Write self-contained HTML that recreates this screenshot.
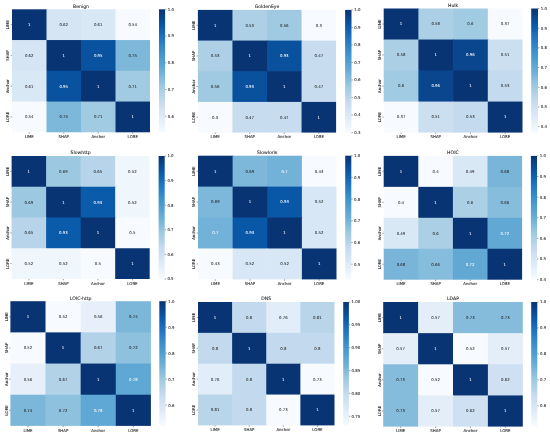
<!DOCTYPE html>
<html><head><meta charset="utf-8"><title>Explanation correlation heatmaps</title><style>html,body{margin:0;padding:0;background:#fff;}svg{display:block;}text{font-family:"DejaVu Sans","Liberation Sans",sans-serif;}</style></head><body>
<svg width="550" height="435" viewBox="0 0 550 435">
<defs><linearGradient id="g0" x1="0" y1="1" x2="0" y2="0"><stop offset="0.0000" stop-color="#f7fbff"/><stop offset="0.0312" stop-color="#f1f7fd"/><stop offset="0.0625" stop-color="#eaf3fb"/><stop offset="0.0938" stop-color="#e4eff9"/><stop offset="0.1250" stop-color="#deebf7"/><stop offset="0.1562" stop-color="#d8e7f5"/><stop offset="0.1875" stop-color="#d2e3f3"/><stop offset="0.2188" stop-color="#ccdff1"/><stop offset="0.2500" stop-color="#c6dbef"/><stop offset="0.2812" stop-color="#bcd7eb"/><stop offset="0.3125" stop-color="#b2d2e8"/><stop offset="0.3438" stop-color="#a8cee4"/><stop offset="0.3750" stop-color="#9dcae1"/><stop offset="0.4062" stop-color="#91c3de"/><stop offset="0.4375" stop-color="#84bcdb"/><stop offset="0.4688" stop-color="#77b5d9"/><stop offset="0.5000" stop-color="#6aaed6"/><stop offset="0.5312" stop-color="#61a8d4"/><stop offset="0.5625" stop-color="#57a3d2"/><stop offset="0.5938" stop-color="#4e9dd0"/><stop offset="0.6250" stop-color="#4497ce"/><stop offset="0.6562" stop-color="#3c90cb"/><stop offset="0.6875" stop-color="#3489c8"/><stop offset="0.7188" stop-color="#2b81c6"/><stop offset="0.7500" stop-color="#2379c3"/><stop offset="0.7812" stop-color="#1c71bc"/><stop offset="0.8125" stop-color="#1568b5"/><stop offset="0.8438" stop-color="#0f5faf"/><stop offset="0.8750" stop-color="#0957a7"/><stop offset="0.9062" stop-color="#094e9a"/><stop offset="0.9375" stop-color="#09458c"/><stop offset="0.9688" stop-color="#093c7f"/><stop offset="1.0000" stop-color="#093474"/></linearGradient><linearGradient id="g1" x1="0" y1="1" x2="0" y2="0"><stop offset="0.0000" stop-color="#f7fbff"/><stop offset="0.0312" stop-color="#f1f7fd"/><stop offset="0.0625" stop-color="#eaf3fb"/><stop offset="0.0938" stop-color="#e4eff9"/><stop offset="0.1250" stop-color="#deebf7"/><stop offset="0.1562" stop-color="#d8e7f5"/><stop offset="0.1875" stop-color="#d2e3f3"/><stop offset="0.2188" stop-color="#ccdff1"/><stop offset="0.2500" stop-color="#c6dbef"/><stop offset="0.2812" stop-color="#bcd7eb"/><stop offset="0.3125" stop-color="#b2d2e8"/><stop offset="0.3438" stop-color="#a8cee4"/><stop offset="0.3750" stop-color="#9dcae1"/><stop offset="0.4062" stop-color="#91c3de"/><stop offset="0.4375" stop-color="#84bcdb"/><stop offset="0.4688" stop-color="#77b5d9"/><stop offset="0.5000" stop-color="#6aaed6"/><stop offset="0.5312" stop-color="#61a8d4"/><stop offset="0.5625" stop-color="#57a3d2"/><stop offset="0.5938" stop-color="#4e9dd0"/><stop offset="0.6250" stop-color="#4497ce"/><stop offset="0.6562" stop-color="#3c90cb"/><stop offset="0.6875" stop-color="#3489c8"/><stop offset="0.7188" stop-color="#2b81c6"/><stop offset="0.7500" stop-color="#2379c3"/><stop offset="0.7812" stop-color="#1c71bc"/><stop offset="0.8125" stop-color="#1568b5"/><stop offset="0.8438" stop-color="#0f5faf"/><stop offset="0.8750" stop-color="#0957a7"/><stop offset="0.9062" stop-color="#094e9a"/><stop offset="0.9375" stop-color="#09458c"/><stop offset="0.9688" stop-color="#093c7f"/><stop offset="1.0000" stop-color="#093474"/></linearGradient><linearGradient id="g2" x1="0" y1="1" x2="0" y2="0"><stop offset="0.0000" stop-color="#f7fbff"/><stop offset="0.0312" stop-color="#f1f7fd"/><stop offset="0.0625" stop-color="#eaf3fb"/><stop offset="0.0938" stop-color="#e4eff9"/><stop offset="0.1250" stop-color="#deebf7"/><stop offset="0.1562" stop-color="#d8e7f5"/><stop offset="0.1875" stop-color="#d2e3f3"/><stop offset="0.2188" stop-color="#ccdff1"/><stop offset="0.2500" stop-color="#c6dbef"/><stop offset="0.2812" stop-color="#bcd7eb"/><stop offset="0.3125" stop-color="#b2d2e8"/><stop offset="0.3438" stop-color="#a8cee4"/><stop offset="0.3750" stop-color="#9dcae1"/><stop offset="0.4062" stop-color="#91c3de"/><stop offset="0.4375" stop-color="#84bcdb"/><stop offset="0.4688" stop-color="#77b5d9"/><stop offset="0.5000" stop-color="#6aaed6"/><stop offset="0.5312" stop-color="#61a8d4"/><stop offset="0.5625" stop-color="#57a3d2"/><stop offset="0.5938" stop-color="#4e9dd0"/><stop offset="0.6250" stop-color="#4497ce"/><stop offset="0.6562" stop-color="#3c90cb"/><stop offset="0.6875" stop-color="#3489c8"/><stop offset="0.7188" stop-color="#2b81c6"/><stop offset="0.7500" stop-color="#2379c3"/><stop offset="0.7812" stop-color="#1c71bc"/><stop offset="0.8125" stop-color="#1568b5"/><stop offset="0.8438" stop-color="#0f5faf"/><stop offset="0.8750" stop-color="#0957a7"/><stop offset="0.9062" stop-color="#094e9a"/><stop offset="0.9375" stop-color="#09458c"/><stop offset="0.9688" stop-color="#093c7f"/><stop offset="1.0000" stop-color="#093474"/></linearGradient><linearGradient id="g3" x1="0" y1="1" x2="0" y2="0"><stop offset="0.0000" stop-color="#f7fbff"/><stop offset="0.0312" stop-color="#f1f7fd"/><stop offset="0.0625" stop-color="#eaf3fb"/><stop offset="0.0938" stop-color="#e4eff9"/><stop offset="0.1250" stop-color="#deebf7"/><stop offset="0.1562" stop-color="#d8e7f5"/><stop offset="0.1875" stop-color="#d2e3f3"/><stop offset="0.2188" stop-color="#ccdff1"/><stop offset="0.2500" stop-color="#c6dbef"/><stop offset="0.2812" stop-color="#bcd7eb"/><stop offset="0.3125" stop-color="#b2d2e8"/><stop offset="0.3438" stop-color="#a8cee4"/><stop offset="0.3750" stop-color="#9dcae1"/><stop offset="0.4062" stop-color="#91c3de"/><stop offset="0.4375" stop-color="#84bcdb"/><stop offset="0.4688" stop-color="#77b5d9"/><stop offset="0.5000" stop-color="#6aaed6"/><stop offset="0.5312" stop-color="#61a8d4"/><stop offset="0.5625" stop-color="#57a3d2"/><stop offset="0.5938" stop-color="#4e9dd0"/><stop offset="0.6250" stop-color="#4497ce"/><stop offset="0.6562" stop-color="#3c90cb"/><stop offset="0.6875" stop-color="#3489c8"/><stop offset="0.7188" stop-color="#2b81c6"/><stop offset="0.7500" stop-color="#2379c3"/><stop offset="0.7812" stop-color="#1c71bc"/><stop offset="0.8125" stop-color="#1568b5"/><stop offset="0.8438" stop-color="#0f5faf"/><stop offset="0.8750" stop-color="#0957a7"/><stop offset="0.9062" stop-color="#094e9a"/><stop offset="0.9375" stop-color="#09458c"/><stop offset="0.9688" stop-color="#093c7f"/><stop offset="1.0000" stop-color="#093474"/></linearGradient><linearGradient id="g4" x1="0" y1="1" x2="0" y2="0"><stop offset="0.0000" stop-color="#f7fbff"/><stop offset="0.0312" stop-color="#f1f7fd"/><stop offset="0.0625" stop-color="#eaf3fb"/><stop offset="0.0938" stop-color="#e4eff9"/><stop offset="0.1250" stop-color="#deebf7"/><stop offset="0.1562" stop-color="#d8e7f5"/><stop offset="0.1875" stop-color="#d2e3f3"/><stop offset="0.2188" stop-color="#ccdff1"/><stop offset="0.2500" stop-color="#c6dbef"/><stop offset="0.2812" stop-color="#bcd7eb"/><stop offset="0.3125" stop-color="#b2d2e8"/><stop offset="0.3438" stop-color="#a8cee4"/><stop offset="0.3750" stop-color="#9dcae1"/><stop offset="0.4062" stop-color="#91c3de"/><stop offset="0.4375" stop-color="#84bcdb"/><stop offset="0.4688" stop-color="#77b5d9"/><stop offset="0.5000" stop-color="#6aaed6"/><stop offset="0.5312" stop-color="#61a8d4"/><stop offset="0.5625" stop-color="#57a3d2"/><stop offset="0.5938" stop-color="#4e9dd0"/><stop offset="0.6250" stop-color="#4497ce"/><stop offset="0.6562" stop-color="#3c90cb"/><stop offset="0.6875" stop-color="#3489c8"/><stop offset="0.7188" stop-color="#2b81c6"/><stop offset="0.7500" stop-color="#2379c3"/><stop offset="0.7812" stop-color="#1c71bc"/><stop offset="0.8125" stop-color="#1568b5"/><stop offset="0.8438" stop-color="#0f5faf"/><stop offset="0.8750" stop-color="#0957a7"/><stop offset="0.9062" stop-color="#094e9a"/><stop offset="0.9375" stop-color="#09458c"/><stop offset="0.9688" stop-color="#093c7f"/><stop offset="1.0000" stop-color="#093474"/></linearGradient><linearGradient id="g5" x1="0" y1="1" x2="0" y2="0"><stop offset="0.0000" stop-color="#f7fbff"/><stop offset="0.0312" stop-color="#f1f7fd"/><stop offset="0.0625" stop-color="#eaf3fb"/><stop offset="0.0938" stop-color="#e4eff9"/><stop offset="0.1250" stop-color="#deebf7"/><stop offset="0.1562" stop-color="#d8e7f5"/><stop offset="0.1875" stop-color="#d2e3f3"/><stop offset="0.2188" stop-color="#ccdff1"/><stop offset="0.2500" stop-color="#c6dbef"/><stop offset="0.2812" stop-color="#bcd7eb"/><stop offset="0.3125" stop-color="#b2d2e8"/><stop offset="0.3438" stop-color="#a8cee4"/><stop offset="0.3750" stop-color="#9dcae1"/><stop offset="0.4062" stop-color="#91c3de"/><stop offset="0.4375" stop-color="#84bcdb"/><stop offset="0.4688" stop-color="#77b5d9"/><stop offset="0.5000" stop-color="#6aaed6"/><stop offset="0.5312" stop-color="#61a8d4"/><stop offset="0.5625" stop-color="#57a3d2"/><stop offset="0.5938" stop-color="#4e9dd0"/><stop offset="0.6250" stop-color="#4497ce"/><stop offset="0.6562" stop-color="#3c90cb"/><stop offset="0.6875" stop-color="#3489c8"/><stop offset="0.7188" stop-color="#2b81c6"/><stop offset="0.7500" stop-color="#2379c3"/><stop offset="0.7812" stop-color="#1c71bc"/><stop offset="0.8125" stop-color="#1568b5"/><stop offset="0.8438" stop-color="#0f5faf"/><stop offset="0.8750" stop-color="#0957a7"/><stop offset="0.9062" stop-color="#094e9a"/><stop offset="0.9375" stop-color="#09458c"/><stop offset="0.9688" stop-color="#093c7f"/><stop offset="1.0000" stop-color="#093474"/></linearGradient><linearGradient id="g6" x1="0" y1="1" x2="0" y2="0"><stop offset="0.0000" stop-color="#f7fbff"/><stop offset="0.0312" stop-color="#f1f7fd"/><stop offset="0.0625" stop-color="#eaf3fb"/><stop offset="0.0938" stop-color="#e4eff9"/><stop offset="0.1250" stop-color="#deebf7"/><stop offset="0.1562" stop-color="#d8e7f5"/><stop offset="0.1875" stop-color="#d2e3f3"/><stop offset="0.2188" stop-color="#ccdff1"/><stop offset="0.2500" stop-color="#c6dbef"/><stop offset="0.2812" stop-color="#bcd7eb"/><stop offset="0.3125" stop-color="#b2d2e8"/><stop offset="0.3438" stop-color="#a8cee4"/><stop offset="0.3750" stop-color="#9dcae1"/><stop offset="0.4062" stop-color="#91c3de"/><stop offset="0.4375" stop-color="#84bcdb"/><stop offset="0.4688" stop-color="#77b5d9"/><stop offset="0.5000" stop-color="#6aaed6"/><stop offset="0.5312" stop-color="#61a8d4"/><stop offset="0.5625" stop-color="#57a3d2"/><stop offset="0.5938" stop-color="#4e9dd0"/><stop offset="0.6250" stop-color="#4497ce"/><stop offset="0.6562" stop-color="#3c90cb"/><stop offset="0.6875" stop-color="#3489c8"/><stop offset="0.7188" stop-color="#2b81c6"/><stop offset="0.7500" stop-color="#2379c3"/><stop offset="0.7812" stop-color="#1c71bc"/><stop offset="0.8125" stop-color="#1568b5"/><stop offset="0.8438" stop-color="#0f5faf"/><stop offset="0.8750" stop-color="#0957a7"/><stop offset="0.9062" stop-color="#094e9a"/><stop offset="0.9375" stop-color="#09458c"/><stop offset="0.9688" stop-color="#093c7f"/><stop offset="1.0000" stop-color="#093474"/></linearGradient><linearGradient id="g7" x1="0" y1="1" x2="0" y2="0"><stop offset="0.0000" stop-color="#f7fbff"/><stop offset="0.0312" stop-color="#f1f7fd"/><stop offset="0.0625" stop-color="#eaf3fb"/><stop offset="0.0938" stop-color="#e4eff9"/><stop offset="0.1250" stop-color="#deebf7"/><stop offset="0.1562" stop-color="#d8e7f5"/><stop offset="0.1875" stop-color="#d2e3f3"/><stop offset="0.2188" stop-color="#ccdff1"/><stop offset="0.2500" stop-color="#c6dbef"/><stop offset="0.2812" stop-color="#bcd7eb"/><stop offset="0.3125" stop-color="#b2d2e8"/><stop offset="0.3438" stop-color="#a8cee4"/><stop offset="0.3750" stop-color="#9dcae1"/><stop offset="0.4062" stop-color="#91c3de"/><stop offset="0.4375" stop-color="#84bcdb"/><stop offset="0.4688" stop-color="#77b5d9"/><stop offset="0.5000" stop-color="#6aaed6"/><stop offset="0.5312" stop-color="#61a8d4"/><stop offset="0.5625" stop-color="#57a3d2"/><stop offset="0.5938" stop-color="#4e9dd0"/><stop offset="0.6250" stop-color="#4497ce"/><stop offset="0.6562" stop-color="#3c90cb"/><stop offset="0.6875" stop-color="#3489c8"/><stop offset="0.7188" stop-color="#2b81c6"/><stop offset="0.7500" stop-color="#2379c3"/><stop offset="0.7812" stop-color="#1c71bc"/><stop offset="0.8125" stop-color="#1568b5"/><stop offset="0.8438" stop-color="#0f5faf"/><stop offset="0.8750" stop-color="#0957a7"/><stop offset="0.9062" stop-color="#094e9a"/><stop offset="0.9375" stop-color="#09458c"/><stop offset="0.9688" stop-color="#093c7f"/><stop offset="1.0000" stop-color="#093474"/></linearGradient><linearGradient id="g8" x1="0" y1="1" x2="0" y2="0"><stop offset="0.0000" stop-color="#f7fbff"/><stop offset="0.0312" stop-color="#f1f7fd"/><stop offset="0.0625" stop-color="#eaf3fb"/><stop offset="0.0938" stop-color="#e4eff9"/><stop offset="0.1250" stop-color="#deebf7"/><stop offset="0.1562" stop-color="#d8e7f5"/><stop offset="0.1875" stop-color="#d2e3f3"/><stop offset="0.2188" stop-color="#ccdff1"/><stop offset="0.2500" stop-color="#c6dbef"/><stop offset="0.2812" stop-color="#bcd7eb"/><stop offset="0.3125" stop-color="#b2d2e8"/><stop offset="0.3438" stop-color="#a8cee4"/><stop offset="0.3750" stop-color="#9dcae1"/><stop offset="0.4062" stop-color="#91c3de"/><stop offset="0.4375" stop-color="#84bcdb"/><stop offset="0.4688" stop-color="#77b5d9"/><stop offset="0.5000" stop-color="#6aaed6"/><stop offset="0.5312" stop-color="#61a8d4"/><stop offset="0.5625" stop-color="#57a3d2"/><stop offset="0.5938" stop-color="#4e9dd0"/><stop offset="0.6250" stop-color="#4497ce"/><stop offset="0.6562" stop-color="#3c90cb"/><stop offset="0.6875" stop-color="#3489c8"/><stop offset="0.7188" stop-color="#2b81c6"/><stop offset="0.7500" stop-color="#2379c3"/><stop offset="0.7812" stop-color="#1c71bc"/><stop offset="0.8125" stop-color="#1568b5"/><stop offset="0.8438" stop-color="#0f5faf"/><stop offset="0.8750" stop-color="#0957a7"/><stop offset="0.9062" stop-color="#094e9a"/><stop offset="0.9375" stop-color="#09458c"/><stop offset="0.9688" stop-color="#093c7f"/><stop offset="1.0000" stop-color="#093474"/></linearGradient></defs>
<rect x="0" y="0" width="550" height="435" fill="#fff"/>
<g><rect x="12.00" y="9.30" width="35.20" height="31.45" fill="#093474"/>
<rect x="46.50" y="9.30" width="35.20" height="31.45" fill="#d5e5f4"/>
<rect x="81.00" y="9.30" width="35.20" height="31.45" fill="#d9e8f5"/>
<rect x="115.50" y="9.30" width="34.50" height="31.45" fill="#f7fbff"/>
<rect x="12.00" y="40.05" width="35.20" height="31.45" fill="#d5e5f4"/>
<rect x="46.50" y="40.05" width="35.20" height="31.45" fill="#093474"/>
<rect x="81.00" y="40.05" width="35.20" height="31.45" fill="#0952a0"/>
<rect x="115.50" y="40.05" width="34.50" height="31.45" fill="#7db8da"/>
<rect x="12.00" y="70.80" width="35.20" height="31.45" fill="#d9e8f5"/>
<rect x="46.50" y="70.80" width="35.20" height="31.45" fill="#0952a0"/>
<rect x="81.00" y="70.80" width="35.20" height="31.45" fill="#093474"/>
<rect x="115.50" y="70.80" width="34.50" height="31.45" fill="#a0cbe2"/>
<rect x="12.00" y="101.55" width="35.20" height="30.75" fill="#f7fbff"/>
<rect x="46.50" y="101.55" width="35.20" height="30.75" fill="#7db8da"/>
<rect x="81.00" y="101.55" width="35.20" height="30.75" fill="#a0cbe2"/>
<rect x="115.50" y="101.55" width="34.50" height="30.75" fill="#093474"/>
<rect x="159.00" y="9.30" width="6.10" height="123.00" fill="url(#g0)"/>
<rect x="197.90" y="9.90" width="35.25" height="31.37" fill="#093474"/>
<rect x="232.45" y="9.90" width="35.25" height="31.37" fill="#add0e6"/>
<rect x="267.00" y="9.90" width="35.25" height="31.37" fill="#9fcae1"/>
<rect x="301.55" y="9.90" width="34.55" height="31.37" fill="#f7fbff"/>
<rect x="197.90" y="40.57" width="35.25" height="31.37" fill="#add0e6"/>
<rect x="232.45" y="40.57" width="35.25" height="31.37" fill="#093474"/>
<rect x="267.00" y="40.57" width="35.25" height="31.37" fill="#09509d"/>
<rect x="301.55" y="40.57" width="34.55" height="31.37" fill="#c7dcef"/>
<rect x="197.90" y="71.25" width="35.25" height="31.37" fill="#9fcae1"/>
<rect x="232.45" y="71.25" width="35.25" height="31.37" fill="#09509d"/>
<rect x="267.00" y="71.25" width="35.25" height="31.37" fill="#093474"/>
<rect x="301.55" y="71.25" width="34.55" height="31.37" fill="#c7dcef"/>
<rect x="197.90" y="101.92" width="35.25" height="30.67" fill="#f7fbff"/>
<rect x="232.45" y="101.92" width="35.25" height="30.67" fill="#c7dcef"/>
<rect x="267.00" y="101.92" width="35.25" height="30.67" fill="#c7dcef"/>
<rect x="301.55" y="101.92" width="34.55" height="30.67" fill="#093474"/>
<rect x="345.10" y="9.90" width="6.40" height="122.70" fill="url(#g1)"/>
<rect x="383.70" y="8.50" width="35.40" height="31.72" fill="#093474"/>
<rect x="418.40" y="8.50" width="35.40" height="31.72" fill="#abd0e6"/>
<rect x="453.10" y="8.50" width="35.40" height="31.72" fill="#a1cbe2"/>
<rect x="487.80" y="8.50" width="34.70" height="31.72" fill="#f7fbff"/>
<rect x="383.70" y="39.52" width="35.40" height="31.72" fill="#abd0e6"/>
<rect x="418.40" y="39.52" width="35.40" height="31.72" fill="#093474"/>
<rect x="453.10" y="39.52" width="35.40" height="31.72" fill="#09468e"/>
<rect x="487.80" y="39.52" width="34.70" height="31.72" fill="#ccdff1"/>
<rect x="383.70" y="70.55" width="35.40" height="31.72" fill="#a1cbe2"/>
<rect x="418.40" y="70.55" width="35.40" height="31.72" fill="#09468e"/>
<rect x="453.10" y="70.55" width="35.40" height="31.72" fill="#093474"/>
<rect x="487.80" y="70.55" width="34.70" height="31.72" fill="#c4daee"/>
<rect x="383.70" y="101.57" width="35.40" height="31.02" fill="#f7fbff"/>
<rect x="418.40" y="101.57" width="35.40" height="31.02" fill="#ccdff1"/>
<rect x="453.10" y="101.57" width="35.40" height="31.02" fill="#c4daee"/>
<rect x="487.80" y="101.57" width="34.70" height="31.02" fill="#093474"/>
<rect x="531.20" y="8.50" width="6.80" height="124.10" fill="url(#g2)"/>
<rect x="11.60" y="156.00" width="35.23" height="31.45" fill="#093474"/>
<rect x="46.12" y="156.00" width="35.23" height="31.45" fill="#9cc9e1"/>
<rect x="80.65" y="156.00" width="35.23" height="31.45" fill="#b7d4ea"/>
<rect x="115.17" y="156.00" width="34.52" height="31.45" fill="#eff6fc"/>
<rect x="11.60" y="186.75" width="35.23" height="31.45" fill="#9cc9e1"/>
<rect x="46.12" y="186.75" width="35.23" height="31.45" fill="#093474"/>
<rect x="80.65" y="186.75" width="35.23" height="31.45" fill="#0b5bab"/>
<rect x="115.17" y="186.75" width="34.52" height="31.45" fill="#eff6fc"/>
<rect x="11.60" y="217.50" width="35.23" height="31.45" fill="#b7d4ea"/>
<rect x="46.12" y="217.50" width="35.23" height="31.45" fill="#0b5bab"/>
<rect x="80.65" y="217.50" width="35.23" height="31.45" fill="#093474"/>
<rect x="115.17" y="217.50" width="34.52" height="31.45" fill="#f7fbff"/>
<rect x="11.60" y="248.25" width="35.23" height="30.75" fill="#eff6fc"/>
<rect x="46.12" y="248.25" width="35.23" height="30.75" fill="#eff6fc"/>
<rect x="80.65" y="248.25" width="35.23" height="30.75" fill="#f7fbff"/>
<rect x="115.17" y="248.25" width="34.52" height="30.75" fill="#093474"/>
<rect x="158.60" y="156.00" width="6.10" height="123.00" fill="url(#g3)"/>
<rect x="198.00" y="155.70" width="35.33" height="31.62" fill="#093474"/>
<rect x="232.62" y="155.70" width="35.33" height="31.62" fill="#7db8da"/>
<rect x="267.25" y="155.70" width="35.33" height="31.62" fill="#72b2d8"/>
<rect x="301.88" y="155.70" width="34.62" height="31.62" fill="#f7fbff"/>
<rect x="198.00" y="186.62" width="35.33" height="31.62" fill="#7db8da"/>
<rect x="232.62" y="186.62" width="35.33" height="31.62" fill="#093474"/>
<rect x="267.25" y="186.62" width="35.33" height="31.62" fill="#0957a7"/>
<rect x="301.88" y="186.62" width="34.62" height="31.62" fill="#d8e7f5"/>
<rect x="198.00" y="217.55" width="35.33" height="31.62" fill="#72b2d8"/>
<rect x="232.62" y="217.55" width="35.33" height="31.62" fill="#0957a7"/>
<rect x="267.25" y="217.55" width="35.33" height="31.62" fill="#093474"/>
<rect x="301.88" y="217.55" width="34.62" height="31.62" fill="#d8e7f5"/>
<rect x="198.00" y="248.47" width="35.33" height="30.92" fill="#f7fbff"/>
<rect x="232.62" y="248.47" width="35.33" height="30.92" fill="#d8e7f5"/>
<rect x="267.25" y="248.47" width="35.33" height="30.92" fill="#d8e7f5"/>
<rect x="301.88" y="248.47" width="34.62" height="30.92" fill="#093474"/>
<rect x="345.20" y="155.70" width="6.10" height="123.70" fill="url(#g4)"/>
<rect x="383.70" y="155.90" width="35.30" height="31.65" fill="#093474"/>
<rect x="418.30" y="155.90" width="35.30" height="31.65" fill="#f7fbff"/>
<rect x="452.90" y="155.90" width="35.30" height="31.65" fill="#d9e8f5"/>
<rect x="487.50" y="155.90" width="34.60" height="31.65" fill="#79b5d9"/>
<rect x="383.70" y="186.85" width="35.30" height="31.65" fill="#f7fbff"/>
<rect x="418.30" y="186.85" width="35.30" height="31.65" fill="#093474"/>
<rect x="452.90" y="186.85" width="35.30" height="31.65" fill="#abd0e6"/>
<rect x="487.50" y="186.85" width="34.60" height="31.65" fill="#87bddc"/>
<rect x="383.70" y="217.80" width="35.30" height="31.65" fill="#d9e8f5"/>
<rect x="418.30" y="217.80" width="35.30" height="31.65" fill="#abd0e6"/>
<rect x="452.90" y="217.80" width="35.30" height="31.65" fill="#093474"/>
<rect x="487.50" y="217.80" width="34.60" height="31.65" fill="#61a8d4"/>
<rect x="383.70" y="248.75" width="35.30" height="30.95" fill="#79b5d9"/>
<rect x="418.30" y="248.75" width="35.30" height="30.95" fill="#87bddc"/>
<rect x="452.90" y="248.75" width="35.30" height="30.95" fill="#61a8d4"/>
<rect x="487.50" y="248.75" width="34.60" height="30.95" fill="#093474"/>
<rect x="530.90" y="155.90" width="6.10" height="123.80" fill="url(#g5)"/>
<rect x="10.40" y="301.20" width="35.83" height="31.87" fill="#093474"/>
<rect x="45.52" y="301.20" width="35.83" height="31.87" fill="#f7fbff"/>
<rect x="80.65" y="301.20" width="35.83" height="31.87" fill="#e7f0fa"/>
<rect x="115.78" y="301.20" width="35.12" height="31.87" fill="#7cb7da"/>
<rect x="10.40" y="332.38" width="35.83" height="31.87" fill="#f7fbff"/>
<rect x="45.52" y="332.38" width="35.83" height="31.87" fill="#093474"/>
<rect x="80.65" y="332.38" width="35.83" height="31.87" fill="#b2d2e8"/>
<rect x="115.78" y="332.38" width="35.12" height="31.87" fill="#8dc1dd"/>
<rect x="10.40" y="363.55" width="35.83" height="31.87" fill="#e7f0fa"/>
<rect x="45.52" y="363.55" width="35.83" height="31.87" fill="#b2d2e8"/>
<rect x="80.65" y="363.55" width="35.83" height="31.87" fill="#093474"/>
<rect x="115.78" y="363.55" width="35.12" height="31.87" fill="#5fa7d4"/>
<rect x="10.40" y="394.72" width="35.83" height="31.17" fill="#7cb7da"/>
<rect x="45.52" y="394.72" width="35.83" height="31.17" fill="#8dc1dd"/>
<rect x="80.65" y="394.72" width="35.83" height="31.17" fill="#5fa7d4"/>
<rect x="115.78" y="394.72" width="35.12" height="31.17" fill="#093474"/>
<rect x="159.30" y="301.20" width="6.30" height="124.70" fill="url(#g6)"/>
<rect x="198.00" y="302.00" width="34.83" height="31.55" fill="#093474"/>
<rect x="232.12" y="302.00" width="34.83" height="31.55" fill="#c3daee"/>
<rect x="266.25" y="302.00" width="34.83" height="31.55" fill="#e1edf8"/>
<rect x="300.38" y="302.00" width="34.12" height="31.55" fill="#b8d5ea"/>
<rect x="198.00" y="332.85" width="34.83" height="31.55" fill="#c3daee"/>
<rect x="232.12" y="332.85" width="34.83" height="31.55" fill="#093474"/>
<rect x="266.25" y="332.85" width="34.83" height="31.55" fill="#c3daee"/>
<rect x="300.38" y="332.85" width="34.12" height="31.55" fill="#c3daee"/>
<rect x="198.00" y="363.70" width="34.83" height="31.55" fill="#e1edf8"/>
<rect x="232.12" y="363.70" width="34.83" height="31.55" fill="#c3daee"/>
<rect x="266.25" y="363.70" width="34.83" height="31.55" fill="#093474"/>
<rect x="300.38" y="363.70" width="34.12" height="31.55" fill="#f7fbff"/>
<rect x="198.00" y="394.55" width="34.83" height="30.85" fill="#b8d5ea"/>
<rect x="232.12" y="394.55" width="34.83" height="30.85" fill="#c3daee"/>
<rect x="266.25" y="394.55" width="34.83" height="30.85" fill="#f7fbff"/>
<rect x="300.38" y="394.55" width="34.12" height="30.85" fill="#093474"/>
<rect x="343.20" y="302.00" width="5.70" height="123.40" fill="url(#g7)"/>
<rect x="383.20" y="302.00" width="35.60" height="31.85" fill="#093474"/>
<rect x="418.10" y="302.00" width="35.60" height="31.85" fill="#e3eef8"/>
<rect x="453.00" y="302.00" width="35.60" height="31.85" fill="#85bcdc"/>
<rect x="487.90" y="302.00" width="34.90" height="31.85" fill="#85bcdc"/>
<rect x="383.20" y="333.15" width="35.60" height="31.85" fill="#e3eef8"/>
<rect x="418.10" y="333.15" width="35.60" height="31.85" fill="#093474"/>
<rect x="453.00" y="333.15" width="35.60" height="31.85" fill="#f7fbff"/>
<rect x="487.90" y="333.15" width="34.90" height="31.85" fill="#e3eef8"/>
<rect x="383.20" y="364.30" width="35.60" height="31.85" fill="#85bcdc"/>
<rect x="418.10" y="364.30" width="35.60" height="31.85" fill="#f7fbff"/>
<rect x="453.00" y="364.30" width="35.60" height="31.85" fill="#093474"/>
<rect x="487.90" y="364.30" width="34.90" height="31.85" fill="#cee0f2"/>
<rect x="383.20" y="395.45" width="35.60" height="31.15" fill="#85bcdc"/>
<rect x="418.10" y="395.45" width="35.60" height="31.15" fill="#e3eef8"/>
<rect x="453.00" y="395.45" width="35.60" height="31.15" fill="#cee0f2"/>
<rect x="487.90" y="395.45" width="34.90" height="31.15" fill="#093474"/>
<rect x="531.20" y="302.00" width="6.10" height="124.60" fill="url(#g8)"/></g>
<g stroke="#262626" stroke-width="0.45"><line x1="29.25" y1="132.30" x2="29.25" y2="133.65"/>
<line x1="63.75" y1="132.30" x2="63.75" y2="133.65"/>
<line x1="98.25" y1="132.30" x2="98.25" y2="133.65"/>
<line x1="132.75" y1="132.30" x2="132.75" y2="133.65"/>
<line x1="10.65" y1="24.68" x2="12.00" y2="24.68"/>
<line x1="10.65" y1="55.43" x2="12.00" y2="55.43"/>
<line x1="10.65" y1="86.18" x2="12.00" y2="86.18"/>
<line x1="10.65" y1="116.93" x2="12.00" y2="116.93"/>
<line x1="165.10" y1="9.30" x2="166.45" y2="9.30"/>
<line x1="165.10" y1="36.04" x2="166.45" y2="36.04"/>
<line x1="165.10" y1="62.78" x2="166.45" y2="62.78"/>
<line x1="165.10" y1="89.52" x2="166.45" y2="89.52"/>
<line x1="165.10" y1="116.26" x2="166.45" y2="116.26"/>
<line x1="215.18" y1="132.60" x2="215.18" y2="133.95"/>
<line x1="249.73" y1="132.60" x2="249.73" y2="133.95"/>
<line x1="284.28" y1="132.60" x2="284.28" y2="133.95"/>
<line x1="318.83" y1="132.60" x2="318.83" y2="133.95"/>
<line x1="196.55" y1="25.24" x2="197.90" y2="25.24"/>
<line x1="196.55" y1="55.91" x2="197.90" y2="55.91"/>
<line x1="196.55" y1="86.59" x2="197.90" y2="86.59"/>
<line x1="196.55" y1="117.26" x2="197.90" y2="117.26"/>
<line x1="351.50" y1="9.90" x2="352.85" y2="9.90"/>
<line x1="351.50" y1="27.43" x2="352.85" y2="27.43"/>
<line x1="351.50" y1="44.96" x2="352.85" y2="44.96"/>
<line x1="351.50" y1="62.49" x2="352.85" y2="62.49"/>
<line x1="351.50" y1="80.01" x2="352.85" y2="80.01"/>
<line x1="351.50" y1="97.54" x2="352.85" y2="97.54"/>
<line x1="351.50" y1="115.07" x2="352.85" y2="115.07"/>
<line x1="351.50" y1="132.60" x2="352.85" y2="132.60"/>
<line x1="401.05" y1="132.60" x2="401.05" y2="133.95"/>
<line x1="435.75" y1="132.60" x2="435.75" y2="133.95"/>
<line x1="470.45" y1="132.60" x2="470.45" y2="133.95"/>
<line x1="505.15" y1="132.60" x2="505.15" y2="133.95"/>
<line x1="382.35" y1="24.01" x2="383.70" y2="24.01"/>
<line x1="382.35" y1="55.04" x2="383.70" y2="55.04"/>
<line x1="382.35" y1="86.06" x2="383.70" y2="86.06"/>
<line x1="382.35" y1="117.09" x2="383.70" y2="117.09"/>
<line x1="538.00" y1="8.50" x2="539.35" y2="8.50"/>
<line x1="538.00" y1="28.20" x2="539.35" y2="28.20"/>
<line x1="538.00" y1="47.90" x2="539.35" y2="47.90"/>
<line x1="538.00" y1="67.60" x2="539.35" y2="67.60"/>
<line x1="538.00" y1="87.29" x2="539.35" y2="87.29"/>
<line x1="538.00" y1="106.99" x2="539.35" y2="106.99"/>
<line x1="538.00" y1="126.69" x2="539.35" y2="126.69"/>
<line x1="28.86" y1="279.00" x2="28.86" y2="280.35"/>
<line x1="63.39" y1="279.00" x2="63.39" y2="280.35"/>
<line x1="97.91" y1="279.00" x2="97.91" y2="280.35"/>
<line x1="132.44" y1="279.00" x2="132.44" y2="280.35"/>
<line x1="10.25" y1="171.38" x2="11.60" y2="171.38"/>
<line x1="10.25" y1="202.12" x2="11.60" y2="202.12"/>
<line x1="10.25" y1="232.88" x2="11.60" y2="232.88"/>
<line x1="10.25" y1="263.62" x2="11.60" y2="263.62"/>
<line x1="164.70" y1="156.00" x2="166.05" y2="156.00"/>
<line x1="164.70" y1="180.60" x2="166.05" y2="180.60"/>
<line x1="164.70" y1="205.20" x2="166.05" y2="205.20"/>
<line x1="164.70" y1="229.80" x2="166.05" y2="229.80"/>
<line x1="164.70" y1="254.40" x2="166.05" y2="254.40"/>
<line x1="164.70" y1="279.00" x2="166.05" y2="279.00"/>
<line x1="215.31" y1="279.40" x2="215.31" y2="280.75"/>
<line x1="249.94" y1="279.40" x2="249.94" y2="280.75"/>
<line x1="284.56" y1="279.40" x2="284.56" y2="280.75"/>
<line x1="319.19" y1="279.40" x2="319.19" y2="280.75"/>
<line x1="196.65" y1="171.16" x2="198.00" y2="171.16"/>
<line x1="196.65" y1="202.09" x2="198.00" y2="202.09"/>
<line x1="196.65" y1="233.01" x2="198.00" y2="233.01"/>
<line x1="196.65" y1="263.94" x2="198.00" y2="263.94"/>
<line x1="351.30" y1="155.70" x2="352.65" y2="155.70"/>
<line x1="351.30" y1="177.40" x2="352.65" y2="177.40"/>
<line x1="351.30" y1="199.10" x2="352.65" y2="199.10"/>
<line x1="351.30" y1="220.81" x2="352.65" y2="220.81"/>
<line x1="351.30" y1="242.51" x2="352.65" y2="242.51"/>
<line x1="351.30" y1="264.21" x2="352.65" y2="264.21"/>
<line x1="401.00" y1="279.70" x2="401.00" y2="281.05"/>
<line x1="435.60" y1="279.70" x2="435.60" y2="281.05"/>
<line x1="470.20" y1="279.70" x2="470.20" y2="281.05"/>
<line x1="504.80" y1="279.70" x2="504.80" y2="281.05"/>
<line x1="382.35" y1="171.38" x2="383.70" y2="171.38"/>
<line x1="382.35" y1="202.32" x2="383.70" y2="202.32"/>
<line x1="382.35" y1="233.27" x2="383.70" y2="233.27"/>
<line x1="382.35" y1="264.23" x2="383.70" y2="264.23"/>
<line x1="537.00" y1="155.90" x2="538.35" y2="155.90"/>
<line x1="537.00" y1="176.53" x2="538.35" y2="176.53"/>
<line x1="537.00" y1="197.17" x2="538.35" y2="197.17"/>
<line x1="537.00" y1="217.80" x2="538.35" y2="217.80"/>
<line x1="537.00" y1="238.43" x2="538.35" y2="238.43"/>
<line x1="537.00" y1="259.07" x2="538.35" y2="259.07"/>
<line x1="537.00" y1="279.70" x2="538.35" y2="279.70"/>
<line x1="27.96" y1="425.90" x2="27.96" y2="427.25"/>
<line x1="63.09" y1="425.90" x2="63.09" y2="427.25"/>
<line x1="98.21" y1="425.90" x2="98.21" y2="427.25"/>
<line x1="133.34" y1="425.90" x2="133.34" y2="427.25"/>
<line x1="9.05" y1="316.79" x2="10.40" y2="316.79"/>
<line x1="9.05" y1="347.96" x2="10.40" y2="347.96"/>
<line x1="9.05" y1="379.14" x2="10.40" y2="379.14"/>
<line x1="9.05" y1="410.31" x2="10.40" y2="410.31"/>
<line x1="165.60" y1="301.20" x2="166.95" y2="301.20"/>
<line x1="165.60" y1="327.18" x2="166.95" y2="327.18"/>
<line x1="165.60" y1="353.16" x2="166.95" y2="353.16"/>
<line x1="165.60" y1="379.14" x2="166.95" y2="379.14"/>
<line x1="165.60" y1="405.12" x2="166.95" y2="405.12"/>
<line x1="215.06" y1="425.40" x2="215.06" y2="426.75"/>
<line x1="249.19" y1="425.40" x2="249.19" y2="426.75"/>
<line x1="283.31" y1="425.40" x2="283.31" y2="426.75"/>
<line x1="317.44" y1="425.40" x2="317.44" y2="426.75"/>
<line x1="196.65" y1="317.43" x2="198.00" y2="317.43"/>
<line x1="196.65" y1="348.27" x2="198.00" y2="348.27"/>
<line x1="196.65" y1="379.12" x2="198.00" y2="379.12"/>
<line x1="196.65" y1="409.97" x2="198.00" y2="409.97"/>
<line x1="348.90" y1="302.00" x2="350.25" y2="302.00"/>
<line x1="348.90" y1="324.85" x2="350.25" y2="324.85"/>
<line x1="348.90" y1="347.70" x2="350.25" y2="347.70"/>
<line x1="348.90" y1="370.56" x2="350.25" y2="370.56"/>
<line x1="348.90" y1="393.41" x2="350.25" y2="393.41"/>
<line x1="348.90" y1="416.26" x2="350.25" y2="416.26"/>
<line x1="400.65" y1="426.60" x2="400.65" y2="427.95"/>
<line x1="435.55" y1="426.60" x2="435.55" y2="427.95"/>
<line x1="470.45" y1="426.60" x2="470.45" y2="427.95"/>
<line x1="505.35" y1="426.60" x2="505.35" y2="427.95"/>
<line x1="381.85" y1="317.57" x2="383.20" y2="317.57"/>
<line x1="381.85" y1="348.73" x2="383.20" y2="348.73"/>
<line x1="381.85" y1="379.88" x2="383.20" y2="379.88"/>
<line x1="381.85" y1="411.03" x2="383.20" y2="411.03"/>
<line x1="537.30" y1="302.00" x2="538.65" y2="302.00"/>
<line x1="537.30" y1="327.96" x2="538.65" y2="327.96"/>
<line x1="537.30" y1="353.92" x2="538.65" y2="353.92"/>
<line x1="537.30" y1="379.88" x2="538.65" y2="379.88"/>
<line x1="537.30" y1="405.83" x2="538.65" y2="405.83"/></g>
<g><text x="292.50" y="260.79" font-size="39.00" fill="#ffffff" stroke="#ffffff" stroke-width="0.40" text-anchor="middle" transform="scale(0.1000)">1</text>
<text x="637.50" y="260.79" font-size="39.00" fill="#262626" stroke="#262626" stroke-width="0.40" text-anchor="middle" transform="scale(0.1000)">0.62</text>
<text x="982.50" y="260.79" font-size="39.00" fill="#262626" stroke="#262626" stroke-width="0.40" text-anchor="middle" transform="scale(0.1000)">0.61</text>
<text x="1327.50" y="260.79" font-size="39.00" fill="#262626" stroke="#262626" stroke-width="0.40" text-anchor="middle" transform="scale(0.1000)">0.54</text>
<text x="292.50" y="568.29" font-size="39.00" fill="#262626" stroke="#262626" stroke-width="0.40" text-anchor="middle" transform="scale(0.1000)">0.62</text>
<text x="637.50" y="568.29" font-size="39.00" fill="#ffffff" stroke="#ffffff" stroke-width="0.40" text-anchor="middle" transform="scale(0.1000)">1</text>
<text x="982.50" y="568.29" font-size="39.00" fill="#ffffff" stroke="#ffffff" stroke-width="0.40" text-anchor="middle" transform="scale(0.1000)">0.95</text>
<text x="1327.50" y="568.29" font-size="39.00" fill="#262626" stroke="#262626" stroke-width="0.40" text-anchor="middle" transform="scale(0.1000)">0.75</text>
<text x="292.50" y="875.79" font-size="39.00" fill="#262626" stroke="#262626" stroke-width="0.40" text-anchor="middle" transform="scale(0.1000)">0.61</text>
<text x="637.50" y="875.79" font-size="39.00" fill="#ffffff" stroke="#ffffff" stroke-width="0.40" text-anchor="middle" transform="scale(0.1000)">0.95</text>
<text x="982.50" y="875.79" font-size="39.00" fill="#ffffff" stroke="#ffffff" stroke-width="0.40" text-anchor="middle" transform="scale(0.1000)">1</text>
<text x="1327.50" y="875.79" font-size="39.00" fill="#262626" stroke="#262626" stroke-width="0.40" text-anchor="middle" transform="scale(0.1000)">0.71</text>
<text x="292.50" y="1183.29" font-size="39.00" fill="#262626" stroke="#262626" stroke-width="0.40" text-anchor="middle" transform="scale(0.1000)">0.54</text>
<text x="637.50" y="1183.29" font-size="39.00" fill="#262626" stroke="#262626" stroke-width="0.40" text-anchor="middle" transform="scale(0.1000)">0.75</text>
<text x="982.50" y="1183.29" font-size="39.00" fill="#262626" stroke="#262626" stroke-width="0.40" text-anchor="middle" transform="scale(0.1000)">0.71</text>
<text x="1327.50" y="1183.29" font-size="39.00" fill="#ffffff" stroke="#ffffff" stroke-width="0.40" text-anchor="middle" transform="scale(0.1000)">1</text>
<text x="810.00" y="76.50" font-size="46.00" fill="#262626" stroke="#262626" stroke-width="0.80" text-anchor="middle" transform="scale(0.1000)">Benign</text>
<text x="292.50" y="1379.64" font-size="39.00" fill="#262626" stroke="#262626" stroke-width="0.80" text-anchor="middle" transform="scale(0.1000)">LIME</text>
<text x="637.50" y="1379.64" font-size="39.00" fill="#262626" stroke="#262626" stroke-width="0.80" text-anchor="middle" transform="scale(0.1000)">SHAP</text>
<text x="982.50" y="1379.64" font-size="39.00" fill="#262626" stroke="#262626" stroke-width="0.80" text-anchor="middle" transform="scale(0.1000)">Anchor</text>
<text x="1327.50" y="1379.64" font-size="39.00" fill="#262626" stroke="#262626" stroke-width="0.80" text-anchor="middle" transform="scale(0.1000)">LORE</text>
<text x="0" y="0" font-size="39.00" fill="#262626" stroke="#262626" stroke-width="0.80" text-anchor="middle" transform="translate(9.30,24.68) rotate(-90) scale(0.1000)">LIME</text>
<text x="0" y="0" font-size="39.00" fill="#262626" stroke="#262626" stroke-width="0.80" text-anchor="middle" transform="translate(9.30,55.43) rotate(-90) scale(0.1000)">SHAP</text>
<text x="0" y="0" font-size="39.00" fill="#262626" stroke="#262626" stroke-width="0.80" text-anchor="middle" transform="translate(9.30,86.18) rotate(-90) scale(0.1000)">Anchor</text>
<text x="0" y="0" font-size="39.00" fill="#262626" stroke="#262626" stroke-width="0.80" text-anchor="middle" transform="translate(9.30,116.93) rotate(-90) scale(0.1000)">LORE</text>
<text x="1678.00" y="107.04" font-size="39.00" fill="#262626" stroke="#262626" stroke-width="0.80" text-anchor="start" transform="scale(0.1000)">1.0</text>
<text x="1678.00" y="374.43" font-size="39.00" fill="#262626" stroke="#262626" stroke-width="0.80" text-anchor="start" transform="scale(0.1000)">0.9</text>
<text x="1678.00" y="641.82" font-size="39.00" fill="#262626" stroke="#262626" stroke-width="0.80" text-anchor="start" transform="scale(0.1000)">0.8</text>
<text x="1678.00" y="909.21" font-size="39.00" fill="#262626" stroke="#262626" stroke-width="0.80" text-anchor="start" transform="scale(0.1000)">0.7</text>
<text x="1678.00" y="1176.61" font-size="39.00" fill="#262626" stroke="#262626" stroke-width="0.80" text-anchor="start" transform="scale(0.1000)">0.6</text>
<text x="2151.75" y="266.41" font-size="39.00" fill="#ffffff" stroke="#ffffff" stroke-width="0.40" text-anchor="middle" transform="scale(0.1000)">1</text>
<text x="2497.25" y="266.41" font-size="39.00" fill="#262626" stroke="#262626" stroke-width="0.40" text-anchor="middle" transform="scale(0.1000)">0.53</text>
<text x="2842.75" y="266.41" font-size="39.00" fill="#262626" stroke="#262626" stroke-width="0.40" text-anchor="middle" transform="scale(0.1000)">0.56</text>
<text x="3188.25" y="266.41" font-size="39.00" fill="#262626" stroke="#262626" stroke-width="0.40" text-anchor="middle" transform="scale(0.1000)">0.3</text>
<text x="2151.75" y="573.16" font-size="39.00" fill="#262626" stroke="#262626" stroke-width="0.40" text-anchor="middle" transform="scale(0.1000)">0.53</text>
<text x="2497.25" y="573.16" font-size="39.00" fill="#ffffff" stroke="#ffffff" stroke-width="0.40" text-anchor="middle" transform="scale(0.1000)">1</text>
<text x="2842.75" y="573.16" font-size="39.00" fill="#ffffff" stroke="#ffffff" stroke-width="0.40" text-anchor="middle" transform="scale(0.1000)">0.93</text>
<text x="3188.25" y="573.16" font-size="39.00" fill="#262626" stroke="#262626" stroke-width="0.40" text-anchor="middle" transform="scale(0.1000)">0.47</text>
<text x="2151.75" y="879.91" font-size="39.00" fill="#262626" stroke="#262626" stroke-width="0.40" text-anchor="middle" transform="scale(0.1000)">0.56</text>
<text x="2497.25" y="879.91" font-size="39.00" fill="#ffffff" stroke="#ffffff" stroke-width="0.40" text-anchor="middle" transform="scale(0.1000)">0.93</text>
<text x="2842.75" y="879.91" font-size="39.00" fill="#ffffff" stroke="#ffffff" stroke-width="0.40" text-anchor="middle" transform="scale(0.1000)">1</text>
<text x="3188.25" y="879.91" font-size="39.00" fill="#262626" stroke="#262626" stroke-width="0.40" text-anchor="middle" transform="scale(0.1000)">0.47</text>
<text x="2151.75" y="1186.66" font-size="39.00" fill="#262626" stroke="#262626" stroke-width="0.40" text-anchor="middle" transform="scale(0.1000)">0.3</text>
<text x="2497.25" y="1186.66" font-size="39.00" fill="#262626" stroke="#262626" stroke-width="0.40" text-anchor="middle" transform="scale(0.1000)">0.47</text>
<text x="2842.75" y="1186.66" font-size="39.00" fill="#262626" stroke="#262626" stroke-width="0.40" text-anchor="middle" transform="scale(0.1000)">0.47</text>
<text x="3188.25" y="1186.66" font-size="39.00" fill="#ffffff" stroke="#ffffff" stroke-width="0.40" text-anchor="middle" transform="scale(0.1000)">1</text>
<text x="2670.00" y="82.50" font-size="46.00" fill="#262626" stroke="#262626" stroke-width="0.80" text-anchor="middle" transform="scale(0.1000)">GoldenEye</text>
<text x="2151.75" y="1382.64" font-size="39.00" fill="#262626" stroke="#262626" stroke-width="0.80" text-anchor="middle" transform="scale(0.1000)">LIME</text>
<text x="2497.25" y="1382.64" font-size="39.00" fill="#262626" stroke="#262626" stroke-width="0.80" text-anchor="middle" transform="scale(0.1000)">SHAP</text>
<text x="2842.75" y="1382.64" font-size="39.00" fill="#262626" stroke="#262626" stroke-width="0.80" text-anchor="middle" transform="scale(0.1000)">Anchor</text>
<text x="3188.25" y="1382.64" font-size="39.00" fill="#262626" stroke="#262626" stroke-width="0.80" text-anchor="middle" transform="scale(0.1000)">LORE</text>
<text x="0" y="0" font-size="39.00" fill="#262626" stroke="#262626" stroke-width="0.80" text-anchor="middle" transform="translate(195.20,25.24) rotate(-90) scale(0.1000)">LIME</text>
<text x="0" y="0" font-size="39.00" fill="#262626" stroke="#262626" stroke-width="0.80" text-anchor="middle" transform="translate(195.20,55.91) rotate(-90) scale(0.1000)">SHAP</text>
<text x="0" y="0" font-size="39.00" fill="#262626" stroke="#262626" stroke-width="0.80" text-anchor="middle" transform="translate(195.20,86.59) rotate(-90) scale(0.1000)">Anchor</text>
<text x="0" y="0" font-size="39.00" fill="#262626" stroke="#262626" stroke-width="0.80" text-anchor="middle" transform="translate(195.20,117.26) rotate(-90) scale(0.1000)">LORE</text>
<text x="3542.00" y="113.04" font-size="39.00" fill="#262626" stroke="#262626" stroke-width="0.80" text-anchor="start" transform="scale(0.1000)">1.0</text>
<text x="3542.00" y="288.33" font-size="39.00" fill="#262626" stroke="#262626" stroke-width="0.80" text-anchor="start" transform="scale(0.1000)">0.9</text>
<text x="3542.00" y="463.61" font-size="39.00" fill="#262626" stroke="#262626" stroke-width="0.80" text-anchor="start" transform="scale(0.1000)">0.8</text>
<text x="3542.00" y="638.90" font-size="39.00" fill="#262626" stroke="#262626" stroke-width="0.80" text-anchor="start" transform="scale(0.1000)">0.7</text>
<text x="3542.00" y="814.18" font-size="39.00" fill="#262626" stroke="#262626" stroke-width="0.80" text-anchor="start" transform="scale(0.1000)">0.6</text>
<text x="3542.00" y="989.47" font-size="39.00" fill="#262626" stroke="#262626" stroke-width="0.80" text-anchor="start" transform="scale(0.1000)">0.5</text>
<text x="3542.00" y="1164.75" font-size="39.00" fill="#262626" stroke="#262626" stroke-width="0.80" text-anchor="start" transform="scale(0.1000)">0.4</text>
<text x="3542.00" y="1340.04" font-size="39.00" fill="#262626" stroke="#262626" stroke-width="0.80" text-anchor="start" transform="scale(0.1000)">0.3</text>
<text x="4010.50" y="254.16" font-size="39.00" fill="#ffffff" stroke="#ffffff" stroke-width="0.40" text-anchor="middle" transform="scale(0.1000)">1</text>
<text x="4357.50" y="254.16" font-size="39.00" fill="#262626" stroke="#262626" stroke-width="0.40" text-anchor="middle" transform="scale(0.1000)">0.58</text>
<text x="4704.50" y="254.16" font-size="39.00" fill="#262626" stroke="#262626" stroke-width="0.40" text-anchor="middle" transform="scale(0.1000)">0.6</text>
<text x="5051.50" y="254.16" font-size="39.00" fill="#262626" stroke="#262626" stroke-width="0.40" text-anchor="middle" transform="scale(0.1000)">0.37</text>
<text x="4010.50" y="564.41" font-size="39.00" fill="#262626" stroke="#262626" stroke-width="0.40" text-anchor="middle" transform="scale(0.1000)">0.58</text>
<text x="4357.50" y="564.41" font-size="39.00" fill="#ffffff" stroke="#ffffff" stroke-width="0.40" text-anchor="middle" transform="scale(0.1000)">1</text>
<text x="4704.50" y="564.41" font-size="39.00" fill="#ffffff" stroke="#ffffff" stroke-width="0.40" text-anchor="middle" transform="scale(0.1000)">0.96</text>
<text x="5051.50" y="564.41" font-size="39.00" fill="#262626" stroke="#262626" stroke-width="0.40" text-anchor="middle" transform="scale(0.1000)">0.51</text>
<text x="4010.50" y="874.66" font-size="39.00" fill="#262626" stroke="#262626" stroke-width="0.40" text-anchor="middle" transform="scale(0.1000)">0.6</text>
<text x="4357.50" y="874.66" font-size="39.00" fill="#ffffff" stroke="#ffffff" stroke-width="0.40" text-anchor="middle" transform="scale(0.1000)">0.96</text>
<text x="4704.50" y="874.66" font-size="39.00" fill="#ffffff" stroke="#ffffff" stroke-width="0.40" text-anchor="middle" transform="scale(0.1000)">1</text>
<text x="5051.50" y="874.66" font-size="39.00" fill="#262626" stroke="#262626" stroke-width="0.40" text-anchor="middle" transform="scale(0.1000)">0.53</text>
<text x="4010.50" y="1184.91" font-size="39.00" fill="#262626" stroke="#262626" stroke-width="0.40" text-anchor="middle" transform="scale(0.1000)">0.37</text>
<text x="4357.50" y="1184.91" font-size="39.00" fill="#262626" stroke="#262626" stroke-width="0.40" text-anchor="middle" transform="scale(0.1000)">0.51</text>
<text x="4704.50" y="1184.91" font-size="39.00" fill="#262626" stroke="#262626" stroke-width="0.40" text-anchor="middle" transform="scale(0.1000)">0.53</text>
<text x="5051.50" y="1184.91" font-size="39.00" fill="#ffffff" stroke="#ffffff" stroke-width="0.40" text-anchor="middle" transform="scale(0.1000)">1</text>
<text x="4531.00" y="68.50" font-size="46.00" fill="#262626" stroke="#262626" stroke-width="0.80" text-anchor="middle" transform="scale(0.1000)">Hulk</text>
<text x="4010.50" y="1382.64" font-size="39.00" fill="#262626" stroke="#262626" stroke-width="0.80" text-anchor="middle" transform="scale(0.1000)">LIME</text>
<text x="4357.50" y="1382.64" font-size="39.00" fill="#262626" stroke="#262626" stroke-width="0.80" text-anchor="middle" transform="scale(0.1000)">SHAP</text>
<text x="4704.50" y="1382.64" font-size="39.00" fill="#262626" stroke="#262626" stroke-width="0.80" text-anchor="middle" transform="scale(0.1000)">Anchor</text>
<text x="5051.50" y="1382.64" font-size="39.00" fill="#262626" stroke="#262626" stroke-width="0.80" text-anchor="middle" transform="scale(0.1000)">LORE</text>
<text x="0" y="0" font-size="39.00" fill="#262626" stroke="#262626" stroke-width="0.80" text-anchor="middle" transform="translate(381.00,24.01) rotate(-90) scale(0.1000)">LIME</text>
<text x="0" y="0" font-size="39.00" fill="#262626" stroke="#262626" stroke-width="0.80" text-anchor="middle" transform="translate(381.00,55.04) rotate(-90) scale(0.1000)">SHAP</text>
<text x="0" y="0" font-size="39.00" fill="#262626" stroke="#262626" stroke-width="0.80" text-anchor="middle" transform="translate(381.00,86.06) rotate(-90) scale(0.1000)">Anchor</text>
<text x="0" y="0" font-size="39.00" fill="#262626" stroke="#262626" stroke-width="0.80" text-anchor="middle" transform="translate(381.00,117.09) rotate(-90) scale(0.1000)">LORE</text>
<text x="5407.00" y="99.04" font-size="39.00" fill="#262626" stroke="#262626" stroke-width="0.80" text-anchor="start" transform="scale(0.1000)">1.0</text>
<text x="5407.00" y="296.02" font-size="39.00" fill="#262626" stroke="#262626" stroke-width="0.80" text-anchor="start" transform="scale(0.1000)">0.9</text>
<text x="5407.00" y="493.01" font-size="39.00" fill="#262626" stroke="#262626" stroke-width="0.80" text-anchor="start" transform="scale(0.1000)">0.8</text>
<text x="5407.00" y="689.99" font-size="39.00" fill="#262626" stroke="#262626" stroke-width="0.80" text-anchor="start" transform="scale(0.1000)">0.7</text>
<text x="5407.00" y="886.98" font-size="39.00" fill="#262626" stroke="#262626" stroke-width="0.80" text-anchor="start" transform="scale(0.1000)">0.6</text>
<text x="5407.00" y="1083.96" font-size="39.00" fill="#262626" stroke="#262626" stroke-width="0.80" text-anchor="start" transform="scale(0.1000)">0.5</text>
<text x="5407.00" y="1280.94" font-size="39.00" fill="#262626" stroke="#262626" stroke-width="0.80" text-anchor="start" transform="scale(0.1000)">0.4</text>
<text x="288.62" y="1727.79" font-size="39.00" fill="#ffffff" stroke="#ffffff" stroke-width="0.40" text-anchor="middle" transform="scale(0.1000)">1</text>
<text x="633.88" y="1727.79" font-size="39.00" fill="#262626" stroke="#262626" stroke-width="0.40" text-anchor="middle" transform="scale(0.1000)">0.69</text>
<text x="979.12" y="1727.79" font-size="39.00" fill="#262626" stroke="#262626" stroke-width="0.40" text-anchor="middle" transform="scale(0.1000)">0.65</text>
<text x="1324.38" y="1727.79" font-size="39.00" fill="#262626" stroke="#262626" stroke-width="0.40" text-anchor="middle" transform="scale(0.1000)">0.52</text>
<text x="288.62" y="2035.29" font-size="39.00" fill="#262626" stroke="#262626" stroke-width="0.40" text-anchor="middle" transform="scale(0.1000)">0.69</text>
<text x="633.88" y="2035.29" font-size="39.00" fill="#ffffff" stroke="#ffffff" stroke-width="0.40" text-anchor="middle" transform="scale(0.1000)">1</text>
<text x="979.12" y="2035.29" font-size="39.00" fill="#ffffff" stroke="#ffffff" stroke-width="0.40" text-anchor="middle" transform="scale(0.1000)">0.93</text>
<text x="1324.38" y="2035.29" font-size="39.00" fill="#262626" stroke="#262626" stroke-width="0.40" text-anchor="middle" transform="scale(0.1000)">0.52</text>
<text x="288.62" y="2342.79" font-size="39.00" fill="#262626" stroke="#262626" stroke-width="0.40" text-anchor="middle" transform="scale(0.1000)">0.65</text>
<text x="633.88" y="2342.79" font-size="39.00" fill="#ffffff" stroke="#ffffff" stroke-width="0.40" text-anchor="middle" transform="scale(0.1000)">0.93</text>
<text x="979.12" y="2342.79" font-size="39.00" fill="#ffffff" stroke="#ffffff" stroke-width="0.40" text-anchor="middle" transform="scale(0.1000)">1</text>
<text x="1324.38" y="2342.79" font-size="39.00" fill="#262626" stroke="#262626" stroke-width="0.40" text-anchor="middle" transform="scale(0.1000)">0.5</text>
<text x="288.62" y="2650.29" font-size="39.00" fill="#262626" stroke="#262626" stroke-width="0.40" text-anchor="middle" transform="scale(0.1000)">0.52</text>
<text x="633.88" y="2650.29" font-size="39.00" fill="#262626" stroke="#262626" stroke-width="0.40" text-anchor="middle" transform="scale(0.1000)">0.52</text>
<text x="979.12" y="2650.29" font-size="39.00" fill="#262626" stroke="#262626" stroke-width="0.40" text-anchor="middle" transform="scale(0.1000)">0.5</text>
<text x="1324.38" y="2650.29" font-size="39.00" fill="#ffffff" stroke="#ffffff" stroke-width="0.40" text-anchor="middle" transform="scale(0.1000)">1</text>
<text x="806.50" y="1543.50" font-size="46.00" fill="#262626" stroke="#262626" stroke-width="0.80" text-anchor="middle" transform="scale(0.1000)">Slowhttp</text>
<text x="288.62" y="2846.64" font-size="39.00" fill="#262626" stroke="#262626" stroke-width="0.80" text-anchor="middle" transform="scale(0.1000)">LIME</text>
<text x="633.88" y="2846.64" font-size="39.00" fill="#262626" stroke="#262626" stroke-width="0.80" text-anchor="middle" transform="scale(0.1000)">SHAP</text>
<text x="979.12" y="2846.64" font-size="39.00" fill="#262626" stroke="#262626" stroke-width="0.80" text-anchor="middle" transform="scale(0.1000)">Anchor</text>
<text x="1324.38" y="2846.64" font-size="39.00" fill="#262626" stroke="#262626" stroke-width="0.80" text-anchor="middle" transform="scale(0.1000)">LORE</text>
<text x="0" y="0" font-size="39.00" fill="#262626" stroke="#262626" stroke-width="0.80" text-anchor="middle" transform="translate(8.90,171.38) rotate(-90) scale(0.1000)">LIME</text>
<text x="0" y="0" font-size="39.00" fill="#262626" stroke="#262626" stroke-width="0.80" text-anchor="middle" transform="translate(8.90,202.12) rotate(-90) scale(0.1000)">SHAP</text>
<text x="0" y="0" font-size="39.00" fill="#262626" stroke="#262626" stroke-width="0.80" text-anchor="middle" transform="translate(8.90,232.88) rotate(-90) scale(0.1000)">Anchor</text>
<text x="0" y="0" font-size="39.00" fill="#262626" stroke="#262626" stroke-width="0.80" text-anchor="middle" transform="translate(8.90,263.62) rotate(-90) scale(0.1000)">LORE</text>
<text x="1674.00" y="1574.04" font-size="39.00" fill="#262626" stroke="#262626" stroke-width="0.80" text-anchor="start" transform="scale(0.1000)">1.0</text>
<text x="1674.00" y="1820.04" font-size="39.00" fill="#262626" stroke="#262626" stroke-width="0.80" text-anchor="start" transform="scale(0.1000)">0.9</text>
<text x="1674.00" y="2066.04" font-size="39.00" fill="#262626" stroke="#262626" stroke-width="0.80" text-anchor="start" transform="scale(0.1000)">0.8</text>
<text x="1674.00" y="2312.04" font-size="39.00" fill="#262626" stroke="#262626" stroke-width="0.80" text-anchor="start" transform="scale(0.1000)">0.7</text>
<text x="1674.00" y="2558.04" font-size="39.00" fill="#262626" stroke="#262626" stroke-width="0.80" text-anchor="start" transform="scale(0.1000)">0.6</text>
<text x="1674.00" y="2804.04" font-size="39.00" fill="#262626" stroke="#262626" stroke-width="0.80" text-anchor="start" transform="scale(0.1000)">0.5</text>
<text x="2153.12" y="1725.66" font-size="39.00" fill="#ffffff" stroke="#ffffff" stroke-width="0.40" text-anchor="middle" transform="scale(0.1000)">1</text>
<text x="2499.38" y="1725.66" font-size="39.00" fill="#262626" stroke="#262626" stroke-width="0.40" text-anchor="middle" transform="scale(0.1000)">0.69</text>
<text x="2845.62" y="1725.66" font-size="39.00" fill="#ffffff" stroke="#ffffff" stroke-width="0.40" text-anchor="middle" transform="scale(0.1000)">0.7</text>
<text x="3191.88" y="1725.66" font-size="39.00" fill="#262626" stroke="#262626" stroke-width="0.40" text-anchor="middle" transform="scale(0.1000)">0.43</text>
<text x="2153.12" y="2034.91" font-size="39.00" fill="#262626" stroke="#262626" stroke-width="0.40" text-anchor="middle" transform="scale(0.1000)">0.69</text>
<text x="2499.38" y="2034.91" font-size="39.00" fill="#ffffff" stroke="#ffffff" stroke-width="0.40" text-anchor="middle" transform="scale(0.1000)">1</text>
<text x="2845.62" y="2034.91" font-size="39.00" fill="#ffffff" stroke="#ffffff" stroke-width="0.40" text-anchor="middle" transform="scale(0.1000)">0.93</text>
<text x="3191.88" y="2034.91" font-size="39.00" fill="#262626" stroke="#262626" stroke-width="0.40" text-anchor="middle" transform="scale(0.1000)">0.52</text>
<text x="2153.12" y="2344.16" font-size="39.00" fill="#ffffff" stroke="#ffffff" stroke-width="0.40" text-anchor="middle" transform="scale(0.1000)">0.7</text>
<text x="2499.38" y="2344.16" font-size="39.00" fill="#ffffff" stroke="#ffffff" stroke-width="0.40" text-anchor="middle" transform="scale(0.1000)">0.93</text>
<text x="2845.62" y="2344.16" font-size="39.00" fill="#ffffff" stroke="#ffffff" stroke-width="0.40" text-anchor="middle" transform="scale(0.1000)">1</text>
<text x="3191.88" y="2344.16" font-size="39.00" fill="#262626" stroke="#262626" stroke-width="0.40" text-anchor="middle" transform="scale(0.1000)">0.52</text>
<text x="2153.12" y="2653.41" font-size="39.00" fill="#262626" stroke="#262626" stroke-width="0.40" text-anchor="middle" transform="scale(0.1000)">0.43</text>
<text x="2499.38" y="2653.41" font-size="39.00" fill="#262626" stroke="#262626" stroke-width="0.40" text-anchor="middle" transform="scale(0.1000)">0.52</text>
<text x="2845.62" y="2653.41" font-size="39.00" fill="#262626" stroke="#262626" stroke-width="0.40" text-anchor="middle" transform="scale(0.1000)">0.52</text>
<text x="3191.88" y="2653.41" font-size="39.00" fill="#ffffff" stroke="#ffffff" stroke-width="0.40" text-anchor="middle" transform="scale(0.1000)">1</text>
<text x="2672.50" y="1540.50" font-size="46.00" fill="#262626" stroke="#262626" stroke-width="0.80" text-anchor="middle" transform="scale(0.1000)">Slowloris</text>
<text x="2153.12" y="2850.64" font-size="39.00" fill="#262626" stroke="#262626" stroke-width="0.80" text-anchor="middle" transform="scale(0.1000)">LIME</text>
<text x="2499.38" y="2850.64" font-size="39.00" fill="#262626" stroke="#262626" stroke-width="0.80" text-anchor="middle" transform="scale(0.1000)">SHAP</text>
<text x="2845.62" y="2850.64" font-size="39.00" fill="#262626" stroke="#262626" stroke-width="0.80" text-anchor="middle" transform="scale(0.1000)">Anchor</text>
<text x="3191.88" y="2850.64" font-size="39.00" fill="#262626" stroke="#262626" stroke-width="0.80" text-anchor="middle" transform="scale(0.1000)">LORE</text>
<text x="0" y="0" font-size="39.00" fill="#262626" stroke="#262626" stroke-width="0.80" text-anchor="middle" transform="translate(195.30,171.16) rotate(-90) scale(0.1000)">LIME</text>
<text x="0" y="0" font-size="39.00" fill="#262626" stroke="#262626" stroke-width="0.80" text-anchor="middle" transform="translate(195.30,202.09) rotate(-90) scale(0.1000)">SHAP</text>
<text x="0" y="0" font-size="39.00" fill="#262626" stroke="#262626" stroke-width="0.80" text-anchor="middle" transform="translate(195.30,233.01) rotate(-90) scale(0.1000)">Anchor</text>
<text x="0" y="0" font-size="39.00" fill="#262626" stroke="#262626" stroke-width="0.80" text-anchor="middle" transform="translate(195.30,263.94) rotate(-90) scale(0.1000)">LORE</text>
<text x="3540.00" y="1571.04" font-size="39.00" fill="#262626" stroke="#262626" stroke-width="0.80" text-anchor="start" transform="scale(0.1000)">1.0</text>
<text x="3540.00" y="1788.06" font-size="39.00" fill="#262626" stroke="#262626" stroke-width="0.80" text-anchor="start" transform="scale(0.1000)">0.9</text>
<text x="3540.00" y="2005.08" font-size="39.00" fill="#262626" stroke="#262626" stroke-width="0.80" text-anchor="start" transform="scale(0.1000)">0.8</text>
<text x="3540.00" y="2222.09" font-size="39.00" fill="#262626" stroke="#262626" stroke-width="0.80" text-anchor="start" transform="scale(0.1000)">0.7</text>
<text x="3540.00" y="2439.11" font-size="39.00" fill="#262626" stroke="#262626" stroke-width="0.80" text-anchor="start" transform="scale(0.1000)">0.6</text>
<text x="3540.00" y="2656.13" font-size="39.00" fill="#262626" stroke="#262626" stroke-width="0.80" text-anchor="start" transform="scale(0.1000)">0.5</text>
<text x="4010.00" y="1727.79" font-size="39.00" fill="#ffffff" stroke="#ffffff" stroke-width="0.40" text-anchor="middle" transform="scale(0.1000)">1</text>
<text x="4356.00" y="1727.79" font-size="39.00" fill="#262626" stroke="#262626" stroke-width="0.40" text-anchor="middle" transform="scale(0.1000)">0.4</text>
<text x="4702.00" y="1727.79" font-size="39.00" fill="#262626" stroke="#262626" stroke-width="0.40" text-anchor="middle" transform="scale(0.1000)">0.49</text>
<text x="5048.00" y="1727.79" font-size="39.00" fill="#262626" stroke="#262626" stroke-width="0.40" text-anchor="middle" transform="scale(0.1000)">0.68</text>
<text x="4010.00" y="2037.29" font-size="39.00" fill="#262626" stroke="#262626" stroke-width="0.40" text-anchor="middle" transform="scale(0.1000)">0.4</text>
<text x="4356.00" y="2037.29" font-size="39.00" fill="#ffffff" stroke="#ffffff" stroke-width="0.40" text-anchor="middle" transform="scale(0.1000)">1</text>
<text x="4702.00" y="2037.29" font-size="39.00" fill="#262626" stroke="#262626" stroke-width="0.40" text-anchor="middle" transform="scale(0.1000)">0.6</text>
<text x="5048.00" y="2037.29" font-size="39.00" fill="#262626" stroke="#262626" stroke-width="0.40" text-anchor="middle" transform="scale(0.1000)">0.66</text>
<text x="4010.00" y="2346.79" font-size="39.00" fill="#262626" stroke="#262626" stroke-width="0.40" text-anchor="middle" transform="scale(0.1000)">0.49</text>
<text x="4356.00" y="2346.79" font-size="39.00" fill="#262626" stroke="#262626" stroke-width="0.40" text-anchor="middle" transform="scale(0.1000)">0.6</text>
<text x="4702.00" y="2346.79" font-size="39.00" fill="#ffffff" stroke="#ffffff" stroke-width="0.40" text-anchor="middle" transform="scale(0.1000)">1</text>
<text x="5048.00" y="2346.79" font-size="39.00" fill="#ffffff" stroke="#ffffff" stroke-width="0.40" text-anchor="middle" transform="scale(0.1000)">0.72</text>
<text x="4010.00" y="2656.29" font-size="39.00" fill="#262626" stroke="#262626" stroke-width="0.40" text-anchor="middle" transform="scale(0.1000)">0.68</text>
<text x="4356.00" y="2656.29" font-size="39.00" fill="#262626" stroke="#262626" stroke-width="0.40" text-anchor="middle" transform="scale(0.1000)">0.66</text>
<text x="4702.00" y="2656.29" font-size="39.00" fill="#ffffff" stroke="#ffffff" stroke-width="0.40" text-anchor="middle" transform="scale(0.1000)">0.72</text>
<text x="5048.00" y="2656.29" font-size="39.00" fill="#ffffff" stroke="#ffffff" stroke-width="0.40" text-anchor="middle" transform="scale(0.1000)">1</text>
<text x="4529.00" y="1542.50" font-size="46.00" fill="#262626" stroke="#262626" stroke-width="0.80" text-anchor="middle" transform="scale(0.1000)">HOIC</text>
<text x="4010.00" y="2853.64" font-size="39.00" fill="#262626" stroke="#262626" stroke-width="0.80" text-anchor="middle" transform="scale(0.1000)">LIME</text>
<text x="4356.00" y="2853.64" font-size="39.00" fill="#262626" stroke="#262626" stroke-width="0.80" text-anchor="middle" transform="scale(0.1000)">SHAP</text>
<text x="4702.00" y="2853.64" font-size="39.00" fill="#262626" stroke="#262626" stroke-width="0.80" text-anchor="middle" transform="scale(0.1000)">Anchor</text>
<text x="5048.00" y="2853.64" font-size="39.00" fill="#262626" stroke="#262626" stroke-width="0.80" text-anchor="middle" transform="scale(0.1000)">LORE</text>
<text x="0" y="0" font-size="39.00" fill="#262626" stroke="#262626" stroke-width="0.80" text-anchor="middle" transform="translate(381.00,171.38) rotate(-90) scale(0.1000)">LIME</text>
<text x="0" y="0" font-size="39.00" fill="#262626" stroke="#262626" stroke-width="0.80" text-anchor="middle" transform="translate(381.00,202.32) rotate(-90) scale(0.1000)">SHAP</text>
<text x="0" y="0" font-size="39.00" fill="#262626" stroke="#262626" stroke-width="0.80" text-anchor="middle" transform="translate(381.00,233.27) rotate(-90) scale(0.1000)">Anchor</text>
<text x="0" y="0" font-size="39.00" fill="#262626" stroke="#262626" stroke-width="0.80" text-anchor="middle" transform="translate(381.00,264.23) rotate(-90) scale(0.1000)">LORE</text>
<text x="5397.00" y="1573.04" font-size="39.00" fill="#262626" stroke="#262626" stroke-width="0.80" text-anchor="start" transform="scale(0.1000)">1.0</text>
<text x="5397.00" y="1779.37" font-size="39.00" fill="#262626" stroke="#262626" stroke-width="0.80" text-anchor="start" transform="scale(0.1000)">0.9</text>
<text x="5397.00" y="1985.71" font-size="39.00" fill="#262626" stroke="#262626" stroke-width="0.80" text-anchor="start" transform="scale(0.1000)">0.8</text>
<text x="5397.00" y="2192.04" font-size="39.00" fill="#262626" stroke="#262626" stroke-width="0.80" text-anchor="start" transform="scale(0.1000)">0.7</text>
<text x="5397.00" y="2398.37" font-size="39.00" fill="#262626" stroke="#262626" stroke-width="0.80" text-anchor="start" transform="scale(0.1000)">0.6</text>
<text x="5397.00" y="2604.71" font-size="39.00" fill="#262626" stroke="#262626" stroke-width="0.80" text-anchor="start" transform="scale(0.1000)">0.5</text>
<text x="5397.00" y="2811.04" font-size="39.00" fill="#262626" stroke="#262626" stroke-width="0.80" text-anchor="start" transform="scale(0.1000)">0.4</text>
<text x="279.62" y="3181.91" font-size="39.00" fill="#ffffff" stroke="#ffffff" stroke-width="0.40" text-anchor="middle" transform="scale(0.1000)">1</text>
<text x="630.88" y="3181.91" font-size="39.00" fill="#262626" stroke="#262626" stroke-width="0.40" text-anchor="middle" transform="scale(0.1000)">0.52</text>
<text x="982.12" y="3181.91" font-size="39.00" fill="#262626" stroke="#262626" stroke-width="0.40" text-anchor="middle" transform="scale(0.1000)">0.56</text>
<text x="1333.38" y="3181.91" font-size="39.00" fill="#262626" stroke="#262626" stroke-width="0.40" text-anchor="middle" transform="scale(0.1000)">0.74</text>
<text x="279.62" y="3493.66" font-size="39.00" fill="#262626" stroke="#262626" stroke-width="0.40" text-anchor="middle" transform="scale(0.1000)">0.52</text>
<text x="630.88" y="3493.66" font-size="39.00" fill="#ffffff" stroke="#ffffff" stroke-width="0.40" text-anchor="middle" transform="scale(0.1000)">1</text>
<text x="982.12" y="3493.66" font-size="39.00" fill="#262626" stroke="#262626" stroke-width="0.40" text-anchor="middle" transform="scale(0.1000)">0.67</text>
<text x="1333.38" y="3493.66" font-size="39.00" fill="#262626" stroke="#262626" stroke-width="0.40" text-anchor="middle" transform="scale(0.1000)">0.72</text>
<text x="279.62" y="3805.41" font-size="39.00" fill="#262626" stroke="#262626" stroke-width="0.40" text-anchor="middle" transform="scale(0.1000)">0.56</text>
<text x="630.88" y="3805.41" font-size="39.00" fill="#262626" stroke="#262626" stroke-width="0.40" text-anchor="middle" transform="scale(0.1000)">0.67</text>
<text x="982.12" y="3805.41" font-size="39.00" fill="#ffffff" stroke="#ffffff" stroke-width="0.40" text-anchor="middle" transform="scale(0.1000)">1</text>
<text x="1333.38" y="3805.41" font-size="39.00" fill="#ffffff" stroke="#ffffff" stroke-width="0.40" text-anchor="middle" transform="scale(0.1000)">0.78</text>
<text x="279.62" y="4117.16" font-size="39.00" fill="#262626" stroke="#262626" stroke-width="0.40" text-anchor="middle" transform="scale(0.1000)">0.74</text>
<text x="630.88" y="4117.16" font-size="39.00" fill="#262626" stroke="#262626" stroke-width="0.40" text-anchor="middle" transform="scale(0.1000)">0.72</text>
<text x="982.12" y="4117.16" font-size="39.00" fill="#ffffff" stroke="#ffffff" stroke-width="0.40" text-anchor="middle" transform="scale(0.1000)">0.78</text>
<text x="1333.38" y="4117.16" font-size="39.00" fill="#ffffff" stroke="#ffffff" stroke-width="0.40" text-anchor="middle" transform="scale(0.1000)">1</text>
<text x="806.50" y="2995.50" font-size="46.00" fill="#262626" stroke="#262626" stroke-width="0.80" text-anchor="middle" transform="scale(0.1000)">LOIC-http</text>
<text x="279.62" y="4315.64" font-size="39.00" fill="#262626" stroke="#262626" stroke-width="0.80" text-anchor="middle" transform="scale(0.1000)">LIME</text>
<text x="630.88" y="4315.64" font-size="39.00" fill="#262626" stroke="#262626" stroke-width="0.80" text-anchor="middle" transform="scale(0.1000)">SHAP</text>
<text x="982.12" y="4315.64" font-size="39.00" fill="#262626" stroke="#262626" stroke-width="0.80" text-anchor="middle" transform="scale(0.1000)">Anchor</text>
<text x="1333.38" y="4315.64" font-size="39.00" fill="#262626" stroke="#262626" stroke-width="0.80" text-anchor="middle" transform="scale(0.1000)">LORE</text>
<text x="0" y="0" font-size="39.00" fill="#262626" stroke="#262626" stroke-width="0.80" text-anchor="middle" transform="translate(7.70,316.79) rotate(-90) scale(0.1000)">LIME</text>
<text x="0" y="0" font-size="39.00" fill="#262626" stroke="#262626" stroke-width="0.80" text-anchor="middle" transform="translate(7.70,347.96) rotate(-90) scale(0.1000)">SHAP</text>
<text x="0" y="0" font-size="39.00" fill="#262626" stroke="#262626" stroke-width="0.80" text-anchor="middle" transform="translate(7.70,379.14) rotate(-90) scale(0.1000)">Anchor</text>
<text x="0" y="0" font-size="39.00" fill="#262626" stroke="#262626" stroke-width="0.80" text-anchor="middle" transform="translate(7.70,410.31) rotate(-90) scale(0.1000)">LORE</text>
<text x="1683.00" y="3026.04" font-size="39.00" fill="#262626" stroke="#262626" stroke-width="0.80" text-anchor="start" transform="scale(0.1000)">1.0</text>
<text x="1683.00" y="3285.83" font-size="39.00" fill="#262626" stroke="#262626" stroke-width="0.80" text-anchor="start" transform="scale(0.1000)">0.9</text>
<text x="1683.00" y="3545.62" font-size="39.00" fill="#262626" stroke="#262626" stroke-width="0.80" text-anchor="start" transform="scale(0.1000)">0.8</text>
<text x="1683.00" y="3805.41" font-size="39.00" fill="#262626" stroke="#262626" stroke-width="0.80" text-anchor="start" transform="scale(0.1000)">0.7</text>
<text x="1683.00" y="4065.21" font-size="39.00" fill="#262626" stroke="#262626" stroke-width="0.80" text-anchor="start" transform="scale(0.1000)">0.6</text>
<text x="2150.62" y="3188.29" font-size="39.00" fill="#ffffff" stroke="#ffffff" stroke-width="0.40" text-anchor="middle" transform="scale(0.1000)">1</text>
<text x="2491.88" y="3188.29" font-size="39.00" fill="#262626" stroke="#262626" stroke-width="0.40" text-anchor="middle" transform="scale(0.1000)">0.8</text>
<text x="2833.12" y="3188.29" font-size="39.00" fill="#262626" stroke="#262626" stroke-width="0.40" text-anchor="middle" transform="scale(0.1000)">0.76</text>
<text x="3174.38" y="3188.29" font-size="39.00" fill="#262626" stroke="#262626" stroke-width="0.40" text-anchor="middle" transform="scale(0.1000)">0.81</text>
<text x="2150.62" y="3496.79" font-size="39.00" fill="#262626" stroke="#262626" stroke-width="0.40" text-anchor="middle" transform="scale(0.1000)">0.8</text>
<text x="2491.88" y="3496.79" font-size="39.00" fill="#ffffff" stroke="#ffffff" stroke-width="0.40" text-anchor="middle" transform="scale(0.1000)">1</text>
<text x="2833.12" y="3496.79" font-size="39.00" fill="#262626" stroke="#262626" stroke-width="0.40" text-anchor="middle" transform="scale(0.1000)">0.8</text>
<text x="3174.38" y="3496.79" font-size="39.00" fill="#262626" stroke="#262626" stroke-width="0.40" text-anchor="middle" transform="scale(0.1000)">0.8</text>
<text x="2150.62" y="3805.29" font-size="39.00" fill="#262626" stroke="#262626" stroke-width="0.40" text-anchor="middle" transform="scale(0.1000)">0.76</text>
<text x="2491.88" y="3805.29" font-size="39.00" fill="#262626" stroke="#262626" stroke-width="0.40" text-anchor="middle" transform="scale(0.1000)">0.8</text>
<text x="2833.12" y="3805.29" font-size="39.00" fill="#ffffff" stroke="#ffffff" stroke-width="0.40" text-anchor="middle" transform="scale(0.1000)">1</text>
<text x="3174.38" y="3805.29" font-size="39.00" fill="#262626" stroke="#262626" stroke-width="0.40" text-anchor="middle" transform="scale(0.1000)">0.73</text>
<text x="2150.62" y="4113.79" font-size="39.00" fill="#262626" stroke="#262626" stroke-width="0.40" text-anchor="middle" transform="scale(0.1000)">0.81</text>
<text x="2491.88" y="4113.79" font-size="39.00" fill="#262626" stroke="#262626" stroke-width="0.40" text-anchor="middle" transform="scale(0.1000)">0.8</text>
<text x="2833.12" y="4113.79" font-size="39.00" fill="#262626" stroke="#262626" stroke-width="0.40" text-anchor="middle" transform="scale(0.1000)">0.73</text>
<text x="3174.38" y="4113.79" font-size="39.00" fill="#ffffff" stroke="#ffffff" stroke-width="0.40" text-anchor="middle" transform="scale(0.1000)">1</text>
<text x="2662.50" y="3003.50" font-size="46.00" fill="#262626" stroke="#262626" stroke-width="0.80" text-anchor="middle" transform="scale(0.1000)">DNS</text>
<text x="2150.62" y="4310.64" font-size="39.00" fill="#262626" stroke="#262626" stroke-width="0.80" text-anchor="middle" transform="scale(0.1000)">LIME</text>
<text x="2491.88" y="4310.64" font-size="39.00" fill="#262626" stroke="#262626" stroke-width="0.80" text-anchor="middle" transform="scale(0.1000)">SHAP</text>
<text x="2833.12" y="4310.64" font-size="39.00" fill="#262626" stroke="#262626" stroke-width="0.80" text-anchor="middle" transform="scale(0.1000)">Anchor</text>
<text x="3174.38" y="4310.64" font-size="39.00" fill="#262626" stroke="#262626" stroke-width="0.80" text-anchor="middle" transform="scale(0.1000)">LORE</text>
<text x="0" y="0" font-size="39.00" fill="#262626" stroke="#262626" stroke-width="0.80" text-anchor="middle" transform="translate(195.30,317.43) rotate(-90) scale(0.1000)">LIME</text>
<text x="0" y="0" font-size="39.00" fill="#262626" stroke="#262626" stroke-width="0.80" text-anchor="middle" transform="translate(195.30,348.27) rotate(-90) scale(0.1000)">SHAP</text>
<text x="0" y="0" font-size="39.00" fill="#262626" stroke="#262626" stroke-width="0.80" text-anchor="middle" transform="translate(195.30,379.12) rotate(-90) scale(0.1000)">Anchor</text>
<text x="0" y="0" font-size="39.00" fill="#262626" stroke="#262626" stroke-width="0.80" text-anchor="middle" transform="translate(195.30,409.97) rotate(-90) scale(0.1000)">LORE</text>
<text x="3516.00" y="3034.04" font-size="39.00" fill="#262626" stroke="#262626" stroke-width="0.80" text-anchor="start" transform="scale(0.1000)">1.00</text>
<text x="3516.00" y="3262.56" font-size="39.00" fill="#262626" stroke="#262626" stroke-width="0.80" text-anchor="start" transform="scale(0.1000)">0.95</text>
<text x="3516.00" y="3491.08" font-size="39.00" fill="#262626" stroke="#262626" stroke-width="0.80" text-anchor="start" transform="scale(0.1000)">0.90</text>
<text x="3516.00" y="3719.60" font-size="39.00" fill="#262626" stroke="#262626" stroke-width="0.80" text-anchor="start" transform="scale(0.1000)">0.85</text>
<text x="3516.00" y="3948.11" font-size="39.00" fill="#262626" stroke="#262626" stroke-width="0.80" text-anchor="start" transform="scale(0.1000)">0.80</text>
<text x="3516.00" y="4176.63" font-size="39.00" fill="#262626" stroke="#262626" stroke-width="0.80" text-anchor="start" transform="scale(0.1000)">0.75</text>
<text x="4006.50" y="3189.79" font-size="39.00" fill="#ffffff" stroke="#ffffff" stroke-width="0.40" text-anchor="middle" transform="scale(0.1000)">1</text>
<text x="4355.50" y="3189.79" font-size="39.00" fill="#262626" stroke="#262626" stroke-width="0.40" text-anchor="middle" transform="scale(0.1000)">0.57</text>
<text x="4704.50" y="3189.79" font-size="39.00" fill="#262626" stroke="#262626" stroke-width="0.40" text-anchor="middle" transform="scale(0.1000)">0.73</text>
<text x="5053.50" y="3189.79" font-size="39.00" fill="#262626" stroke="#262626" stroke-width="0.40" text-anchor="middle" transform="scale(0.1000)">0.73</text>
<text x="4006.50" y="3501.29" font-size="39.00" fill="#262626" stroke="#262626" stroke-width="0.40" text-anchor="middle" transform="scale(0.1000)">0.57</text>
<text x="4355.50" y="3501.29" font-size="39.00" fill="#ffffff" stroke="#ffffff" stroke-width="0.40" text-anchor="middle" transform="scale(0.1000)">1</text>
<text x="4704.50" y="3501.29" font-size="39.00" fill="#262626" stroke="#262626" stroke-width="0.40" text-anchor="middle" transform="scale(0.1000)">0.52</text>
<text x="5053.50" y="3501.29" font-size="39.00" fill="#262626" stroke="#262626" stroke-width="0.40" text-anchor="middle" transform="scale(0.1000)">0.57</text>
<text x="4006.50" y="3812.79" font-size="39.00" fill="#262626" stroke="#262626" stroke-width="0.40" text-anchor="middle" transform="scale(0.1000)">0.73</text>
<text x="4355.50" y="3812.79" font-size="39.00" fill="#262626" stroke="#262626" stroke-width="0.40" text-anchor="middle" transform="scale(0.1000)">0.52</text>
<text x="4704.50" y="3812.79" font-size="39.00" fill="#ffffff" stroke="#ffffff" stroke-width="0.40" text-anchor="middle" transform="scale(0.1000)">1</text>
<text x="5053.50" y="3812.79" font-size="39.00" fill="#262626" stroke="#262626" stroke-width="0.40" text-anchor="middle" transform="scale(0.1000)">0.62</text>
<text x="4006.50" y="4124.29" font-size="39.00" fill="#262626" stroke="#262626" stroke-width="0.40" text-anchor="middle" transform="scale(0.1000)">0.73</text>
<text x="4355.50" y="4124.29" font-size="39.00" fill="#262626" stroke="#262626" stroke-width="0.40" text-anchor="middle" transform="scale(0.1000)">0.57</text>
<text x="4704.50" y="4124.29" font-size="39.00" fill="#262626" stroke="#262626" stroke-width="0.40" text-anchor="middle" transform="scale(0.1000)">0.62</text>
<text x="5053.50" y="4124.29" font-size="39.00" fill="#ffffff" stroke="#ffffff" stroke-width="0.40" text-anchor="middle" transform="scale(0.1000)">1</text>
<text x="4530.00" y="3003.50" font-size="46.00" fill="#262626" stroke="#262626" stroke-width="0.80" text-anchor="middle" transform="scale(0.1000)">LDAP</text>
<text x="4006.50" y="4322.64" font-size="39.00" fill="#262626" stroke="#262626" stroke-width="0.80" text-anchor="middle" transform="scale(0.1000)">LIME</text>
<text x="4355.50" y="4322.64" font-size="39.00" fill="#262626" stroke="#262626" stroke-width="0.80" text-anchor="middle" transform="scale(0.1000)">SHAP</text>
<text x="4704.50" y="4322.64" font-size="39.00" fill="#262626" stroke="#262626" stroke-width="0.80" text-anchor="middle" transform="scale(0.1000)">Anchor</text>
<text x="5053.50" y="4322.64" font-size="39.00" fill="#262626" stroke="#262626" stroke-width="0.80" text-anchor="middle" transform="scale(0.1000)">LORE</text>
<text x="0" y="0" font-size="39.00" fill="#262626" stroke="#262626" stroke-width="0.80" text-anchor="middle" transform="translate(380.50,317.57) rotate(-90) scale(0.1000)">LIME</text>
<text x="0" y="0" font-size="39.00" fill="#262626" stroke="#262626" stroke-width="0.80" text-anchor="middle" transform="translate(380.50,348.73) rotate(-90) scale(0.1000)">SHAP</text>
<text x="0" y="0" font-size="39.00" fill="#262626" stroke="#262626" stroke-width="0.80" text-anchor="middle" transform="translate(380.50,379.88) rotate(-90) scale(0.1000)">Anchor</text>
<text x="0" y="0" font-size="39.00" fill="#262626" stroke="#262626" stroke-width="0.80" text-anchor="middle" transform="translate(380.50,411.03) rotate(-90) scale(0.1000)">LORE</text>
<text x="5400.00" y="3034.04" font-size="39.00" fill="#262626" stroke="#262626" stroke-width="0.80" text-anchor="start" transform="scale(0.1000)">1.0</text>
<text x="5400.00" y="3293.62" font-size="39.00" fill="#262626" stroke="#262626" stroke-width="0.80" text-anchor="start" transform="scale(0.1000)">0.9</text>
<text x="5400.00" y="3553.21" font-size="39.00" fill="#262626" stroke="#262626" stroke-width="0.80" text-anchor="start" transform="scale(0.1000)">0.8</text>
<text x="5400.00" y="3812.79" font-size="39.00" fill="#262626" stroke="#262626" stroke-width="0.80" text-anchor="start" transform="scale(0.1000)">0.7</text>
<text x="5400.00" y="4072.37" font-size="39.00" fill="#262626" stroke="#262626" stroke-width="0.80" text-anchor="start" transform="scale(0.1000)">0.6</text></g>
</svg></body></html>
